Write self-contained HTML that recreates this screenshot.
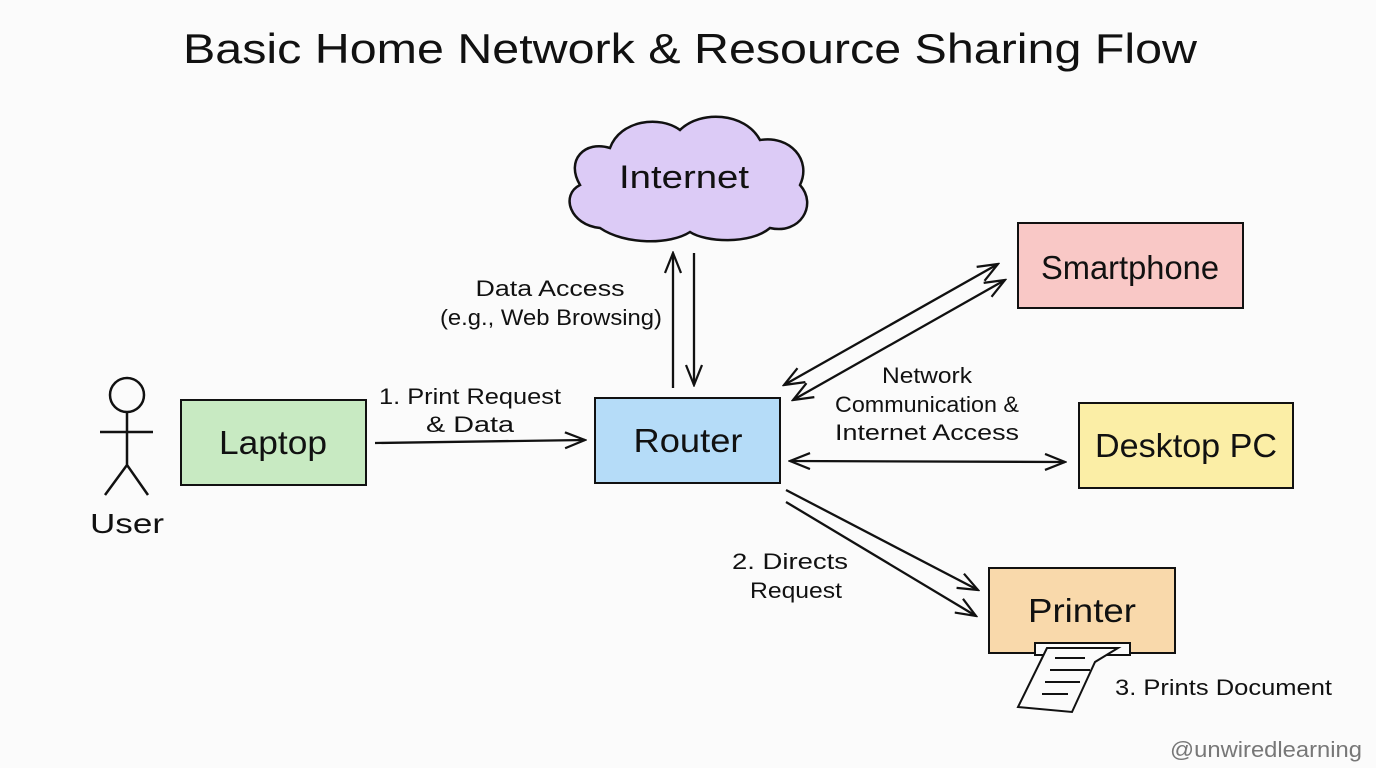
<!DOCTYPE html>
<html><head><meta charset="utf-8"><style>
html,body{margin:0;padding:0;background:#fbfbfb;}
svg{display:block}
text{font-family:"Liberation Sans","DejaVu Sans",sans-serif;fill:#111}
</style></head><body>
<svg width="1376" height="768" viewBox="0 0 1376 768" xmlns="http://www.w3.org/2000/svg">
<defs>
<marker id="a" markerWidth="24" markerHeight="18" refX="22" refY="9" orient="auto-start-reverse" markerUnits="userSpaceOnUse">
<path d="M2,1 L22,9 L2,17" fill="none" stroke="#111" stroke-width="2.2"/>
</marker>
</defs>
<rect width="1376" height="768" fill="#fbfbfb"/>
<text x="690" y="63" font-size="42" text-anchor="middle" textLength="1014" lengthAdjust="spacingAndGlyphs">Basic Home Network &amp; Resource Sharing Flow</text>

<path d="M600,228 C570,225 560,195 580,185 C565,160 585,140 610,148 C620,120 660,115 680,130 C700,110 745,112 760,140 C790,135 812,160 800,185 C818,205 800,235 770,228 C750,245 705,242 690,232 C670,245 625,245 600,228 Z" fill="#dccbf6" stroke="#111" stroke-width="2.5"/>
<text x="684" y="188" font-size="32" text-anchor="middle" textLength="130" lengthAdjust="spacingAndGlyphs">Internet</text>

<rect x="595" y="398" width="185" height="85" fill="#b5dcf8" stroke="#111" stroke-width="2"/>
<text x="688" y="452" font-size="33" text-anchor="middle" textLength="109" lengthAdjust="spacingAndGlyphs">Router</text>
<rect x="181" y="400" width="185" height="85" fill="#c8eac2" stroke="#111" stroke-width="2"/>
<text x="273" y="454" font-size="33" text-anchor="middle" textLength="108" lengthAdjust="spacingAndGlyphs">Laptop</text>
<rect x="1018" y="223" width="225" height="85" fill="#f9c8c6" stroke="#111" stroke-width="2"/>
<text x="1130" y="279" font-size="33" text-anchor="middle" textLength="178" lengthAdjust="spacingAndGlyphs">Smartphone</text>
<rect x="1079" y="403" width="214" height="85" fill="#fbeea6" stroke="#111" stroke-width="2"/>
<text x="1186" y="457" font-size="33" text-anchor="middle" textLength="182" lengthAdjust="spacingAndGlyphs">Desktop PC</text>
<rect x="989" y="568" width="186" height="85" fill="#f9d9ab" stroke="#111" stroke-width="2"/>
<text x="1082" y="622" font-size="33" text-anchor="middle" textLength="108" lengthAdjust="spacingAndGlyphs">Printer</text>
<rect x="1035" y="643" width="95" height="12" fill="#fbfbfb" stroke="#111" stroke-width="2"/>
<path d="M1047,648 L1018,707 L1072,712 L1095,662 L1118,648 Z" fill="#fbfbfb" stroke="#111" stroke-width="2"/>
<path d="M1055,658 H1085 M1050,670 H1090 M1045,682 H1080 M1042,694 H1068" stroke="#111" stroke-width="2"/>

<g stroke="#111" stroke-width="2.5" fill="none">
<circle cx="127" cy="395" r="17"/>
<path d="M127,412 V465 M100,432 H153 M127,465 L105,495 M127,465 L148,495"/>
</g>
<text x="127" y="533" font-size="28" text-anchor="middle" textLength="74" lengthAdjust="spacingAndGlyphs">User</text>

<g stroke="#111" stroke-width="2.3" fill="none">
<line x1="375" y1="443" x2="585" y2="440" marker-end="url(#a)"/>
<line x1="673" y1="388" x2="673" y2="253" marker-end="url(#a)"/>
<line x1="694" y1="253" x2="694" y2="385" marker-end="url(#a)"/>
<line x1="784" y1="385" x2="998" y2="264" marker-start="url(#a)" marker-end="url(#a)"/>
<line x1="793" y1="400" x2="1005" y2="280" marker-start="url(#a)" marker-end="url(#a)"/>
<line x1="790" y1="461" x2="1065" y2="462" marker-start="url(#a)" marker-end="url(#a)"/>
<line x1="786" y1="490" x2="978" y2="590" marker-end="url(#a)"/>
<line x1="786" y1="502" x2="976" y2="616" marker-end="url(#a)"/>
</g>

<g font-size="22" text-anchor="middle">
<text x="470" y="404" textLength="182" lengthAdjust="spacingAndGlyphs">1. Print Request</text>
<text x="470" y="432" textLength="88" lengthAdjust="spacingAndGlyphs">&amp; Data</text>
<text x="550" y="296" textLength="149" lengthAdjust="spacingAndGlyphs">Data Access</text>
<text x="551" y="325" textLength="222" lengthAdjust="spacingAndGlyphs">(e.g., Web Browsing)</text>
<text x="927" y="383" textLength="90" lengthAdjust="spacingAndGlyphs">Network</text>
<text x="927" y="412" textLength="184" lengthAdjust="spacingAndGlyphs">Communication &amp;</text>
<text x="927" y="440" textLength="184" lengthAdjust="spacingAndGlyphs">Internet Access</text>
<text x="790" y="569" textLength="116" lengthAdjust="spacingAndGlyphs">2. Directs</text>
<text x="796" y="598" textLength="92" lengthAdjust="spacingAndGlyphs">Request</text>
</g>
<text x="1115" y="695" font-size="22" textLength="217" lengthAdjust="spacingAndGlyphs">3. Prints Document</text>
<text x="1170" y="757" font-size="22" style="fill:#777" textLength="192" lengthAdjust="spacingAndGlyphs">@unwiredlearning</text>
</svg>
</body></html>
